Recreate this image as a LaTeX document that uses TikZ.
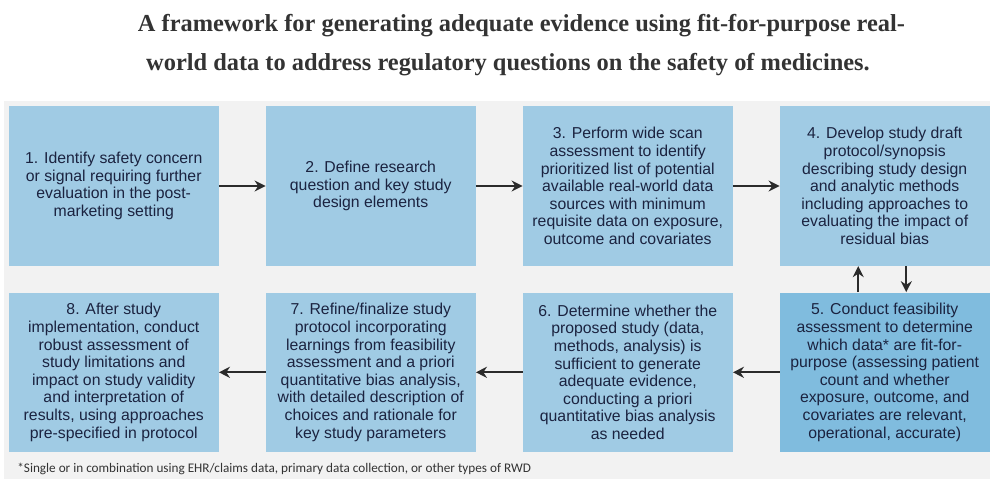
\documentclass[tikz,border=0pt]{standalone}
\usepackage{fontspec}
\setmainfont{Liberation Sans}
\newfontfamily\titlefont{Liberation Serif}
\newfontfamily\notefont{Carlito}
\usetikzlibrary{arrows.meta,positioning}

\definecolor{boxblue}{HTML}{A0CBE4}
\definecolor{boxdeep}{HTML}{80BCDE}
\definecolor{panelgray}{HTML}{F2F2F2}
\definecolor{textnavy}{HTML}{1B2340}
\definecolor{arrowgray}{HTML}{2B2B2B}

\begin{document}
\begin{tikzpicture}[x=0.5pt,y=-0.5pt,
  stepbox/.style={fill=boxblue,text=textnavy,align=center,
    minimum width=104.75pt,minimum height=79.75pt,inner sep=0pt,
    font=\fontsize{7.9}{8.8}\selectfont},
  flow/.style={-{Stealth[length=5.5pt,width=5.5pt]},draw=arrowgray,
    line width=1pt},
  node distance=13pt and 23.35pt]
  \useasboundingbox (0,0) rectangle (1000,479);
  \fill[panelgray] (4,101) rectangle (990,479);

  \node[anchor=base,text=black!80,font=\titlefont\bfseries\fontsize{12.2}{14}\selectfont]
    (ttl1) at (521.5,31)
    {A framework for generating adequate evidence using fit-for-purpose real-};
  \node[anchor=base,text=black!80,font=\titlefont\bfseries\fontsize{12.2}{14}\selectfont]
    (ttl2) at (508,70)
    {world data to address regulatory questions on the safety of medicines.};

  \node[stepbox] (b1) at (113.75,186)
    {1. Identify safety concern\\or signal requiring further\\evaluation in the post-\\marketing setting};
  \node[stepbox,right=of b1] (b2)
    {2. Define research\\question and key study\\design elements};
  \node[stepbox,right=of b2] (b3)
    {3. Perform wide scan\\assessment to identify\\prioritized list of potential\\available real-world data\\sources with minimum\\requisite data on exposure,\\outcome and covariates};
  \node[stepbox,right=of b3] (b4)
    {4. Develop study draft\\protocol/synopsis\\describing study design\\and analytic methods\\including approaches to\\evaluating the impact of\\residual bias};
  \node[stepbox,fill=boxdeep,below=of b4] (b5)
    {5. Conduct feasibility\\assessment to determine\\which data* are fit-for-\\purpose (assessing patient\\count and whether\\exposure, outcome, and\\covariates are relevant,\\operational, accurate)};
  \node[stepbox,left=of b5] (b6)
    {6. Determine whether the\\proposed study (data,\\methods, analysis) is\\sufficient to generate\\adequate evidence,\\conducting a priori\\quantitative bias analysis\\as needed};
  \node[stepbox,left=of b6] (b7)
    {7. Refine/finalize study\\protocol incorporating\\learnings from feasibility\\assessment and a priori\\quantitative bias analysis,\\with detailed description of\\choices and rationale for\\key study parameters};
  \node[stepbox,left=of b7] (b8)
    {8. After study\\implementation, conduct\\robust assessment of\\study limitations and\\impact on study validity\\and interpretation of\\results, using approaches\\pre-specified in protocol};

  \draw[flow] (b1) -- (b2);
  \draw[flow] (b2) -- (b3);
  \draw[flow] (b3) -- (b4);
  \draw[flow] ([xshift=-13.25pt]b5.north) -- ([xshift=-13.25pt]b4.south);
  \draw[flow] ([xshift=10.75pt]b4.south) -- ([xshift=10.75pt]b5.north);
  \draw[flow] (b5) -- (b6);
  \draw[flow] (b6) -- (b7);
  \draw[flow] (b7) -- (b8);

  \node[anchor=base west,inner sep=0pt,text=black!80,font=\notefont\fontsize{6.6}{8}\selectfont]
    (note) at (17,472)
    {*Single or in combination using EHR/claims data, primary data collection, or other types of RWD};
\end{tikzpicture}
\end{document}
